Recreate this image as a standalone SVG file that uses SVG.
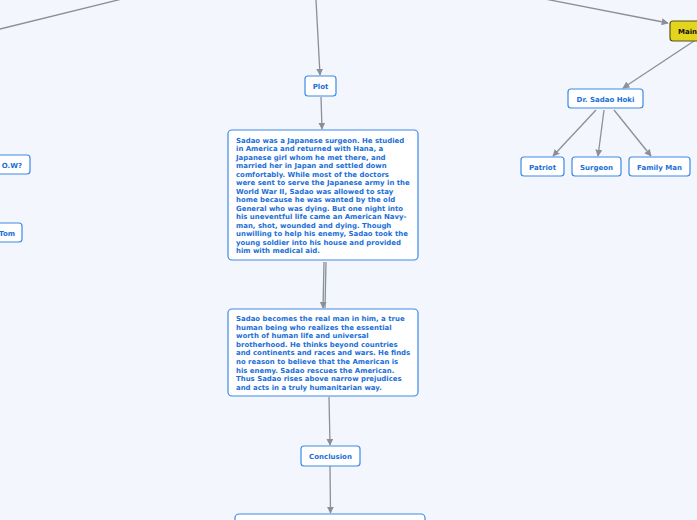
<svg xmlns="http://www.w3.org/2000/svg" width="697" height="520" viewBox="0 0 697 520">
<defs>
<marker id="ah" viewBox="0 0 10 10" refX="9" refY="5" markerWidth="7" markerHeight="7" orient="auto" markerUnits="userSpaceOnUse">
<path d="M0,0 L10,5 L0,10 z" fill="#8a8f99"/>
</marker>
<style>
.bg{fill:#f3f6fd}
.n{fill:#ffffff;stroke:#3d8ae6;stroke-width:1.2}
.t{font-family:"DejaVu Sans",Verdana,sans-serif;font-weight:bold;font-size:6.95px;fill:#1a6fd8}
.l{font-family:"DejaVu Sans",Verdana,sans-serif;font-weight:bold;font-size:7px;fill:#1a6fd8;text-anchor:middle}
.c{stroke:#8a8f99;stroke-width:1.3;fill:none}
</style>
</defs>
<rect class="bg" x="0" y="0" width="697" height="520"/>
<g id="connectors">
<line class="c" x1="122" y1="-1" x2="0" y2="29"/>
<line class="c" x1="316" y1="0" x2="320" y2="75" marker-end="url(#ah)"/>
<line class="c" x1="321" y1="97" x2="322" y2="129" marker-end="url(#ah)"/>
<line class="c" x1="324" y1="262" x2="323" y2="308" marker-end="url(#ah)"/>
<line class="c" x1="326" y1="262" x2="325" y2="308"/>
<line class="c" x1="329" y1="397" x2="330" y2="445" marker-end="url(#ah)"/>
<line class="c" x1="330" y1="466" x2="330.5" y2="513" marker-end="url(#ah)"/>
<line class="c" x1="545" y1="-1" x2="668" y2="23" marker-end="url(#ah)"/>
<line class="c" x1="694" y1="41" x2="623" y2="88" marker-end="url(#ah)"/>
<line class="c" x1="596" y1="110" x2="553" y2="156" marker-end="url(#ah)"/>
<line class="c" x1="604" y1="110" x2="598" y2="156" marker-end="url(#ah)"/>
<line class="c" x1="614" y1="110" x2="651" y2="156" marker-end="url(#ah)"/>
</g>
<g id="plot">
<rect class="n" x="305" y="76" width="31" height="20" rx="3"/>
<text class="l" x="320.5" y="89">Plot</text>
</g>
<g id="story">
<rect class="n" x="228" y="130" width="190" height="130" rx="4"/>
<text class="t">
<tspan x="236" y="142.5">Sadao was a Japanese surgeon. He studied</tspan>
<tspan x="236" y="151">in America and returned with Hana, a</tspan>
<tspan x="236" y="159.5">Japanese girl whom he met there, and</tspan>
<tspan x="236" y="168">married her in Japan and settled down</tspan>
<tspan x="236" y="176.5">comfortably. While most of the doctors</tspan>
<tspan x="236" y="185">were sent to serve the Japanese army in the</tspan>
<tspan x="236" y="193.5">World War II, Sadao was allowed to stay</tspan>
<tspan x="236" y="202">home because he was wanted by the old</tspan>
<tspan x="236" y="210.5">General who was dying. But one night into</tspan>
<tspan x="236" y="219">his uneventful life came an American Navy-</tspan>
<tspan x="236" y="227.5">man, shot, wounded and dying. Though</tspan>
<tspan x="236" y="236">unwilling to help his enemy, Sadao took the</tspan>
<tspan x="236" y="244.5">young soldier into his house and provided</tspan>
<tspan x="236" y="253">him with medical aid.</tspan>
</text>
</g>
<g id="theme">
<rect class="n" x="228" y="309" width="190" height="87" rx="4"/>
<text class="t">
<tspan x="236" y="321">Sadao becomes the real man in him, a true</tspan>
<tspan x="236" y="329.6">human being who realizes the essential</tspan>
<tspan x="236" y="338.2">worth of human life and universal</tspan>
<tspan x="236" y="346.8">brotherhood. He thinks beyond countries</tspan>
<tspan x="236" y="355.4">and continents and races and wars. He finds</tspan>
<tspan x="236" y="364">no reason to believe that the American is</tspan>
<tspan x="236" y="372.6">his enemy. Sadao rescues the American.</tspan>
<tspan x="236" y="381.2">Thus Sadao rises above narrow prejudices</tspan>
<tspan x="236" y="389.8">and acts in a truly humanitarian way.</tspan>
</text>
</g>
<g id="conclusion">
<rect class="n" x="301" y="446" width="59" height="20" rx="3"/>
<text class="l" x="330.5" y="459">Conclusion</text>
</g>
<g id="bottom">
<rect class="n" x="235" y="514" width="190" height="20" rx="4"/>
</g>
<g id="main">
<rect x="670" y="21" width="35" height="20" rx="3" fill="#e3d51e" stroke="#5a5418" stroke-width="1.2"/>
<text class="l" x="678" y="34" style="text-anchor:start;fill:#111">Main</text>
</g>
<g id="sadao">
<rect class="n" x="568" y="89" width="75" height="19" rx="3"/>
<text class="l" x="605.5" y="101.5">Dr. Sadao Hoki</text>
</g>
<g id="patriot">
<rect class="n" x="521" y="157" width="43" height="19" rx="3"/>
<text class="l" x="542.5" y="169.5">Patriot</text>
</g>
<g id="surgeon">
<rect class="n" x="572" y="157" width="49" height="19" rx="3"/>
<text class="l" x="596.5" y="169.5">Surgeon</text>
</g>
<g id="familyman">
<rect class="n" x="629" y="157" width="61" height="19" rx="3"/>
<text class="l" x="659.5" y="169.5">Family Man</text>
</g>
<g id="pow">
<rect class="n" x="-20" y="155" width="50" height="19" rx="3"/>
<text class="l" x="22" y="167.5" style="text-anchor:end">O.W?</text>
</g>
<g id="tom">
<rect class="n" x="-20" y="223" width="42" height="19" rx="3"/>
<text class="l" x="15" y="235.5" style="text-anchor:end">Tom</text>
</g>
</svg>
